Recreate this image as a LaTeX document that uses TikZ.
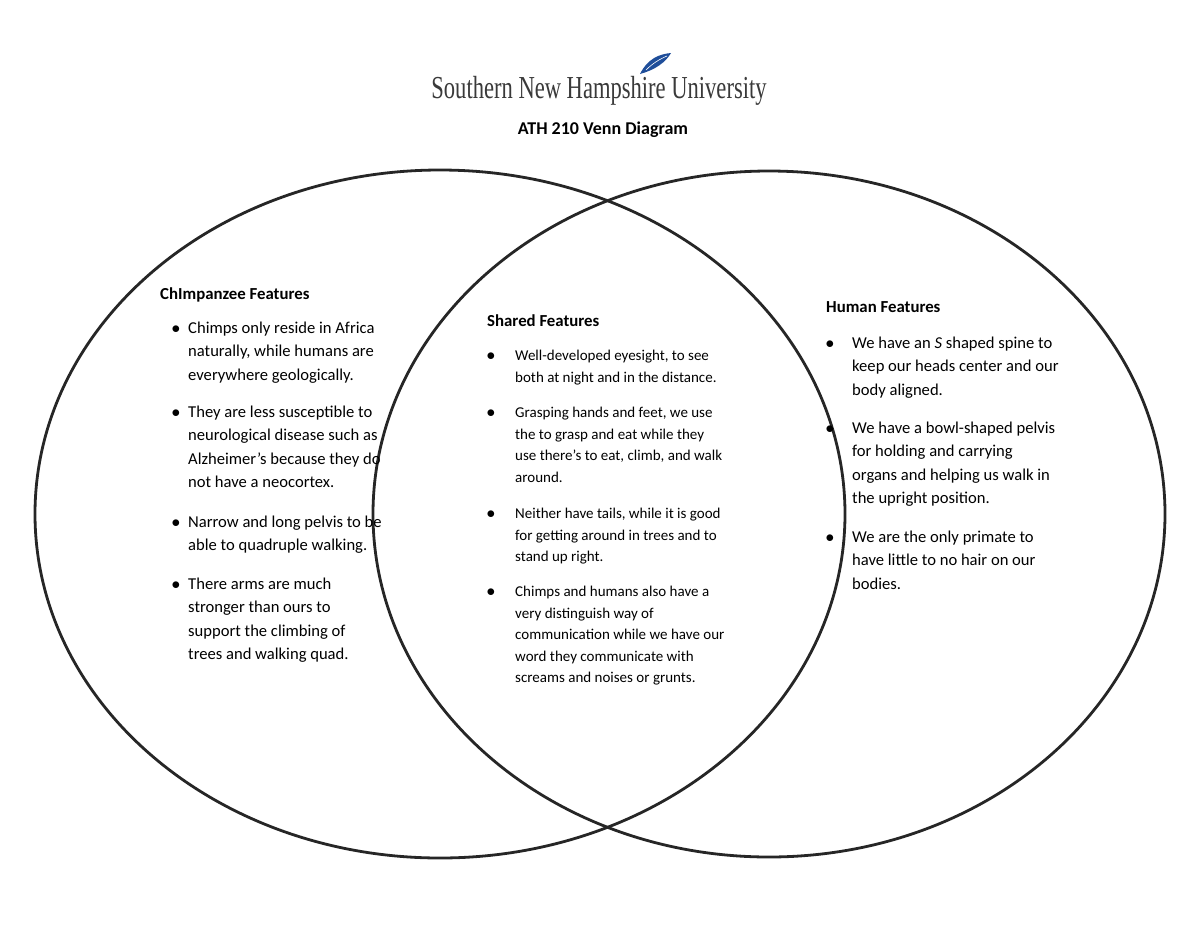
\documentclass[tikz,border=0pt]{standalone}
\usepackage{fontspec}
\setmainfont{Carlito}
\newfontfamily\logofont{Liberation Serif}
\definecolor{logogray}{HTML}{3A3A3A}
\definecolor{featherblue}{HTML}{1F4E9A}
\begin{document}
\begin{tikzpicture}[x=1pt,y=-1pt,
  ring/.style={draw=black!85,line width=2.8pt},
  head/.style={anchor=base west,inner sep=0pt,font=\fontsize{16.8}{17}\selectfont\bfseries},
  itm/.style={anchor=north west,inner sep=0pt,align=left,font=\fontsize{16.6}{23.2}\selectfont},
  sitm/.style={anchor=north west,inner sep=0pt,align=left,font=\fontsize{15}{21.5}\selectfont},
  bul/.style={inner sep=0pt,font=\fontsize{17}{17}\selectfont}]
\useasboundingbox (0,0) rectangle (1200,927);
\fill[white] (0,0) rectangle (1200,927);
% logo
\node[inner sep=0pt,anchor=base,text=logogray,font=\fontsize{32}{33}\logofont,xscale=0.705] (logo) at (599,98) {Southern New Hampshire University};
\fill[featherblue] (640,74) .. controls (648,58) and (660,54) .. (671,53) .. controls (666,62) and (655,70) .. (640,74) -- cycle;
\draw[white,line width=0.6pt] (646,70) .. controls (653,63) and (660,59) .. (667,56);
\node[inner sep=0pt,font=\fontsize{18}{19}\selectfont\bfseries] (title) at (603,130) {ATH 210 Venn Diagram};
% circles
\draw[ring] (440,514) ellipse [x radius=405, y radius=344];
\draw[ring] (769,514) ellipse [x radius=396, y radius=343];
% left
\node[head] (lh) at (160,299) {ChImpanzee Features};
\foreach \y/\n in {330/1,414/2,524/3,586/4} \node[bul] (lb\n) at (176,\y) {$\bullet$};
\node[itm] (l1) at (188,322) {Chimps only reside in Africa\\naturally, while humans are\\everywhere geologically.};
\node[itm] (l2) at (188,406) {They are less susceptible to\\neurological disease such as\\Alzheimer’s because they do\\not have a neocortex.};
\node[itm] (l3) at (188,516) {Narrow and long pelvis to be\\able to quadruple walking.};
\node[itm] (l4) at (188,578) {There arms are much\\stronger than ours to\\support the climbing of\\trees and walking quad.};
% shared
\node[head] (sh) at (487,326) {Shared Features};
\foreach \y/\n in {357/1,414/2,515/3,593/4} \node[bul] (sb\n) at (491,\y) {$\bullet$};
\node[sitm] (s1) at (515,350) {Well-developed eyesight, to see\\both at night and in the distance.};
\node[sitm] (s2) at (515,407) {Grasping hands and feet, we use\\the to grasp and eat while they\\use there’s to eat, climb, and walk\\around.};
\node[sitm] (s3) at (515,508) {Neither have tails, while it is good\\for getting around in trees and to\\stand up right.};
\node[sitm] (s4) at (515,586) {Chimps and humans also have a\\very distinguish way of\\communication while we have our\\word they communicate with\\screams and noises or grunts.};
% human
\node[head] (hh) at (826,312) {Human Features};
\foreach \y/\n in {345/1,430/2,539/3} \node[bul] (hb\n) at (830,\y) {$\bullet$};
\node[itm] (h1) at (852,337) {We have an \textit{S} shaped spine to\\keep our heads center and our\\body aligned.};
\node[itm] (h2) at (852,422) {We have a bowl-shaped pelvis\\for holding and carrying\\organs and helping us walk in\\the upright position.};
\node[itm] (h3) at (852,531) {We are the only primate to\\have little to no hair on our\\bodies.};
\end{tikzpicture}
\end{document}
